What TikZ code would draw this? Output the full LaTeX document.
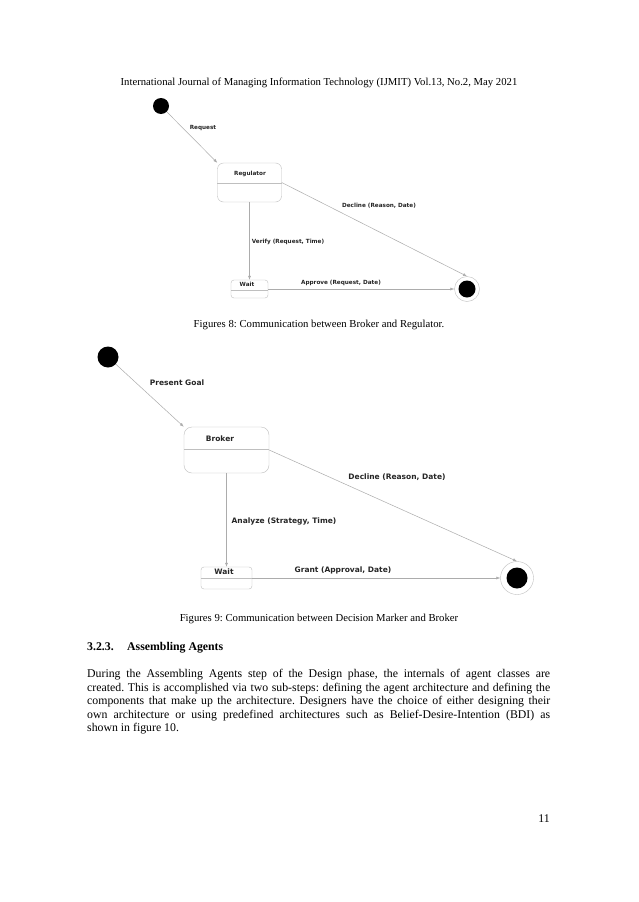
\documentclass[tikz,border=0pt]{standalone}
\usepackage{fontspec}
\setmainfont{Liberation Serif}
\newfontfamily\diafont{DejaVu Sans}
\usetikzlibrary{arrows.meta,calc,positioning}
\frenchspacing

\begin{document}
\begin{tikzpicture}[
    x=1pt, y=-1pt,
    initst/.style={circle, fill=black, inner sep=0pt, minimum size=#1},
    finst/.style={circle, draw=gray!50, inner sep=0pt, minimum size=#1},
    statebox/.style={rectangle, draw=gray!50, inner sep=0pt},
    lbl/.style={font=\diafont\bfseries\fontsize{5.7}{6}\selectfont, text=black!85, inner sep=0pt},
    lblb/.style={font=\diafont\bfseries\fontsize{7.5}{8}\selectfont, text=black!85, inner sep=0pt},
    arr/.style={-{Latex[length=4pt,width=3pt]}, draw=gray!65, line width=0.5pt},
    captext/.style={font=\fontsize{10.7}{12.6}\selectfont, inner sep=0pt},
  ]
    \fill[white] (0,0) rectangle (638,902);
    \useasboundingbox (0,0) rectangle (638,902);

    \node[captext] (head) at (319,83) {International Journal of Managing Information Technology (IJMIT) Vol.13, No.2, May 2021};

    % Figure 8
    \node[initst=16pt] (ini1) at (161,106) {};
    \node[statebox, rounded corners=6pt, minimum width=64pt, minimum height=39pt] (reg) at (249.5,182.5) {};
    \draw[gray!50] (reg.west |- 0,183) -- (reg.east |- 0,183);
    \node[lbl] (regt) at (250,174) {Regulator};
    \node[statebox, rounded corners=3pt, minimum width=37pt, minimum height=18pt] (wait1) at (249.5,289) {};
    \draw[gray!50] (wait1.west |- 0,290) -- (wait1.east |- 0,290);
    \node[lbl] (wait1t) at (247,284) {Wait};
    \node[initst=17pt] (fin1c) at (467,289) {};
    \node[finst=25pt] (fin1) at (467,289) {};

    \draw[arr] (ini1) -- (reg.north west);
    \draw[arr] (reg.south) -- (wait1.north);
    \draw[arr] (reg.east) -- (fin1.north);
    \draw[arr] (wait1.east) -- (fin1.west);

    \node[lbl] (l1req) at (203,128) {Request};
    \node[lbl] (l1ver) at (288,242) {Verify (Request, Time)};
    \node[lbl] (l1dec) at (379,206) {Decline (Reason, Date)};
    \node[lbl] (l1app) at (341,283) {Approve (Request, Date)};

    \node[captext] (cap8) at (319,325) {Figures 8: Communication between Broker and Regulator.};

    % Figure 9
    \node[initst=21pt] (ini2) at (108,357) {};
    \node[statebox, rounded corners=8pt, minimum width=85pt, minimum height=46pt] (brk) at (226.5,450) {};
    \draw[gray!50] (brk.west |- 0,449) -- (brk.east |- 0,449);
    \node[lblb] (brkt) at (220,439) {Broker};
    \node[statebox, rounded corners=3pt, minimum width=51pt, minimum height=22pt] (wait2) at (226.5,578) {};
    \draw[gray!50] (wait2.west |- 0,578) -- (wait2.east |- 0,578);
    \node[lblb] (wait2t) at (224,572) {Wait};
    \node[initst=21pt] (fin2c) at (517,578) {};
    \node[finst=33pt] (fin2) at (517,578) {};

    \draw[arr] (ini2) -- (brk.north west);
    \draw[arr] (brk.south) -- (wait2.north);
    \draw[arr] (brk.east) -- (fin2.north);
    \draw[arr] (wait2.east) -- (fin2.west);

    \node[lblb] (l2goal) at (177,383) {Present Goal};
    \node[lblb] (l2ana) at (284,521) {Analyze (Strategy, Time)};
    \node[lblb] (l2dec) at (397,477) {Decline (Reason, Date)};
    \node[lblb] (l2gra) at (343,570) {Grant (Approval, Date)};

    \node[captext] (cap9) at (319,619) {Figures 9: Communication between Decision Marker and Broker};

    % section text
    \node[anchor=base west, inner sep=0pt, font=\bfseries\fontsize{11.8}{13.5}\selectfont] (secno) at (87,650) {3.2.3.};
    \node[anchor=base west, inner sep=0pt, font=\bfseries\fontsize{11.8}{13.5}\selectfont] (sectit) at (127,650) {Assembling Agents};
    \node[anchor=north west, inner sep=0pt, text width=463pt, align=justify,
          font=\fontsize{11.8}{13.5}\selectfont] (para) at (87,669) {\hyphenpenalty=10000
      During the Assembling Agents step of the Design phase, the internals of agent classes are\linebreak
      created. This is accomplished via two sub-steps: defining the agent architecture and defining the\linebreak
      components that make up the architecture. Designers have the choice of either designing their\linebreak
      own architecture or using predefined architectures such as Belief-Desire-Intention (BDI) as\linebreak
      shown in figure 10.};

    \node[anchor=base east, inner sep=0pt, font=\fontsize{11.8}{13.5}\selectfont] (pgno) at (550,822) {11};
  \end{tikzpicture}
\end{document}
